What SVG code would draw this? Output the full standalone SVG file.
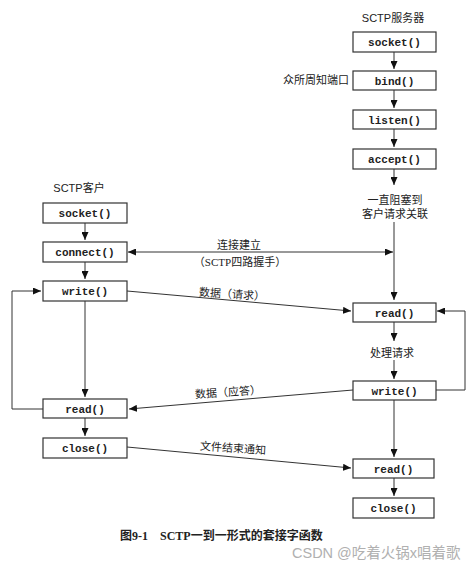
<svg xmlns="http://www.w3.org/2000/svg" width="474" height="566" viewBox="0 0 474 566">
<defs>
<marker id="ah" viewBox="0 0 8 7" refX="8" refY="3.5" markerWidth="8" markerHeight="7" markerUnits="userSpaceOnUse" orient="auto-start-reverse">
<path d="M0,0 L8,3.5 L0,7 z" fill="#111"/>
</marker>
<style>
.box{fill:#fff;stroke:#333;stroke-width:1.2}
.fn{font-family:"Liberation Mono",monospace;font-weight:bold;font-size:11px;fill:#222;text-anchor:middle}
.cn{font-family:"Liberation Serif","Noto Sans CJK SC",serif;font-size:11px;fill:#222}
.hd{font-family:"Liberation Sans","Noto Sans CJK SC",sans-serif;font-size:11px;fill:#222;text-anchor:middle}
.ln{fill:none;stroke:#333;stroke-width:1}
.ar{marker-end:url(#ah)}
</style>
</defs>
<rect width="474" height="566" fill="#fff"/>

<text class="hd" x="393" y="22">SCTP服务器</text>
<text class="hd" x="79" y="192">SCTP客户</text>

<g id="s-socket"><rect class="box" x="353" y="32" width="83" height="20"/><text class="fn" x="394.5" y="46">socket()</text></g>
<g id="s-bind"><rect class="box" x="353" y="71" width="83" height="19"/><text class="fn" x="394.5" y="84.5">bind()</text></g>
<g id="s-listen"><rect class="box" x="353" y="110" width="83" height="19"/><text class="fn" x="394.5" y="123.5">listen()</text></g>
<g id="s-accept"><rect class="box" x="353" y="149" width="83" height="20"/><text class="fn" x="394.5" y="163">accept()</text></g>
<g id="s-read"><rect class="box" x="353" y="303" width="83" height="19"/><text class="fn" x="394.5" y="316.5">read()</text></g>
<g id="s-write"><rect class="box" x="353" y="381" width="83" height="19"/><text class="fn" x="394.5" y="394.5">write()</text></g>
<g id="s-read2"><rect class="box" x="353" y="459" width="81" height="19"/><text class="fn" x="393.5" y="472.5">read()</text></g>
<g id="s-close"><rect class="box" x="353" y="498" width="81" height="20"/><text class="fn" x="393.5" y="512">close()</text></g>

<g id="c-socket"><rect class="box" x="43" y="203" width="84" height="20"/><text class="fn" x="85" y="217">socket()</text></g>
<g id="c-connect"><rect class="box" x="43" y="242" width="84" height="20"/><text class="fn" x="85" y="256">connect()</text></g>
<g id="c-write"><rect class="box" x="43" y="281" width="84" height="20"/><text class="fn" x="85" y="295">write()</text></g>
<g id="c-read"><rect class="box" x="43" y="399" width="84" height="19"/><text class="fn" x="85" y="412.5">read()</text></g>
<g id="c-close"><rect class="box" x="43" y="438" width="84" height="20"/><text class="fn" x="85" y="452">close()</text></g>

<g id="connectors">
<line class="ln ar" x1="394" y1="52" x2="394" y2="69"/>
<line class="ln ar" x1="394" y1="90" x2="394" y2="108"/>
<line class="ln ar" x1="394" y1="129" x2="394" y2="147"/>
<line class="ln ar" x1="394" y1="169" x2="394" y2="185"/>
<line class="ln ar" x1="394" y1="222" x2="394" y2="300"/>
<line class="ln ar" x1="394" y1="322" x2="394" y2="341"/>
<line class="ln ar" x1="394" y1="360" x2="394" y2="379"/>
<line class="ln ar" x1="394" y1="400" x2="394" y2="457"/>
<line class="ln ar" x1="394" y1="478" x2="394" y2="496"/>
<polyline class="ln ar" points="436,390 465,390 465,311 437,311"/>

<line class="ln ar" x1="85" y1="223" x2="85" y2="240"/>
<line class="ln ar" x1="85" y1="262" x2="85" y2="279"/>
<line class="ln ar" x1="85" y1="301" x2="85" y2="397"/>
<line class="ln ar" x1="85" y1="418" x2="85" y2="436"/>
<polyline class="ln ar" points="43,409 12,409 12,291 41,291"/>

<line class="ln ar" x1="128" y1="252" x2="393" y2="252" marker-start="url(#ah)"/>
<line class="ln ar" x1="127" y1="291" x2="351" y2="311"/>
<line class="ln ar" x1="353" y1="390" x2="129" y2="409"/>
<line class="ln ar" x1="127" y1="447" x2="351" y2="468"/>
</g>

<text class="cn" x="283" y="84">众所周知端口</text>
<text class="cn" x="395" y="204" text-anchor="middle">一直阻塞到</text>
<text class="cn" x="395" y="218" text-anchor="middle">客户请求关联</text>
<text class="cn" x="239" y="249" text-anchor="middle">连接建立</text>
<text class="cn" x="240" y="266" text-anchor="middle">（SCTP四路握手）</text>
<text class="cn" x="232" y="298" text-anchor="middle" transform="rotate(4 232 294)">数据（请求）</text>
<text class="cn" x="392" y="357" text-anchor="middle">处理请求</text>
<text class="cn" x="228" y="396" text-anchor="middle" transform="rotate(-4 228 392)">数据（应答）</text>
<text class="cn" x="233" y="452" text-anchor="middle" transform="rotate(4 233 448)">文件结束通知</text>

<text x="120" y="540" font-family="Liberation Serif,Noto Sans CJK SC,serif" font-size="12" font-weight="bold" fill="#222">图9-1　SCTP一到一形式的套接字函数</text>
<text x="292" y="558" font-family="Liberation Sans,Noto Sans CJK SC,sans-serif" font-size="14.5" fill="#b0b0b0">CSDN @吃着火锅x唱着歌</text>
</svg>
